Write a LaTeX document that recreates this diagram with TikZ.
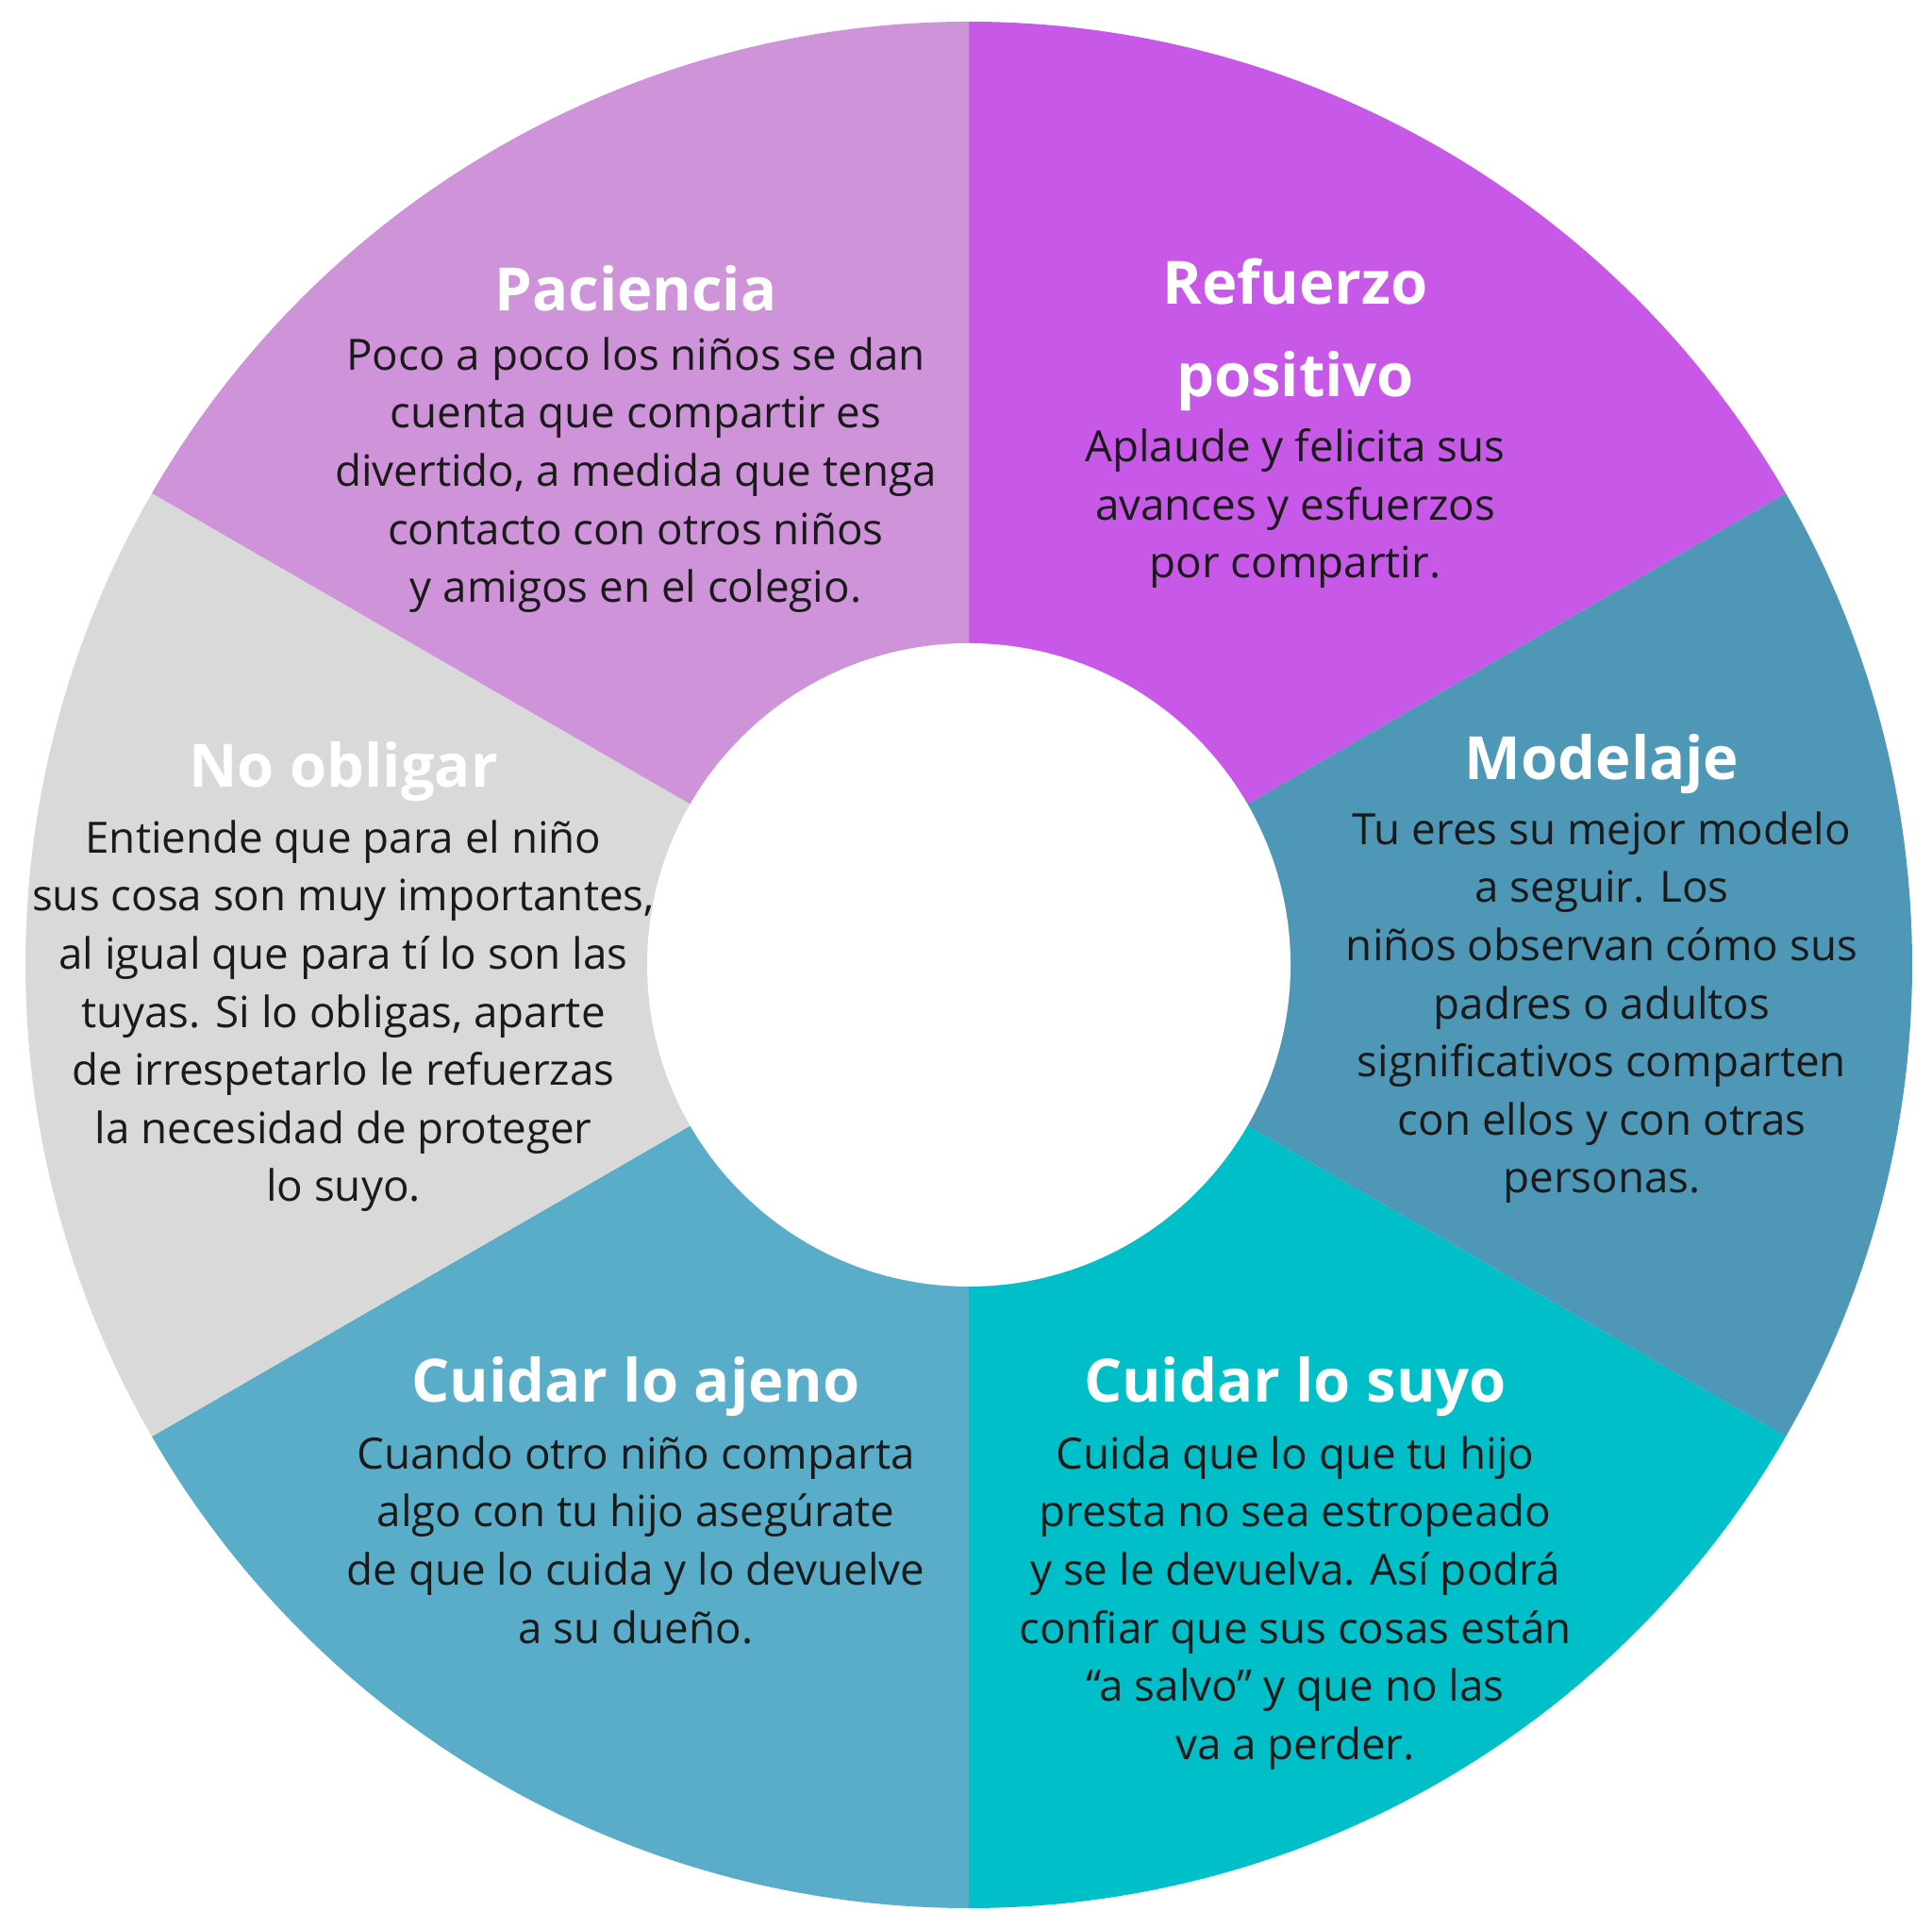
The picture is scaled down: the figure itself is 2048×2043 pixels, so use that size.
\documentclass[tikz,border=0pt]{standalone}
\usepackage{fontspec}
\setmainfont{Open Sans}
\usepackage{xcolor}
\usetikzlibrary{positioning, calc}
\definecolor{refuerzo}{HTML}{C858E8}
\definecolor{modelaje}{HTML}{4F97B7}
\definecolor{suyo}{HTML}{00BFC8}
\definecolor{ajeno}{HTML}{5AADC9}
\definecolor{obligar}{HTML}{D9D9D9}
\definecolor{paciencia}{HTML}{CF93DA}
\definecolor{bodytext}{HTML}{1A1A1A}
\tikzset{
  title/.style={font=\fontsize{18}{28}\selectfont\bfseries, text=white, align=center, inner sep=0pt},
  body/.style={font=\fontsize{13}{17.5}\selectfont, text=bodytext, align=center, inner sep=0pt, anchor=north}
}

\begin{document}
\begin{tikzpicture}[x=0.01cm, y=0.01cm]
  \useasboundingbox (0,0) rectangle (2048,2043);
  \coordinate (c) at (1027,1020);

  % wheel
  \foreach \a/\col in {30/refuerzo, -30/modelaje, -90/suyo, -150/ajeno, 150/obligar, 90/paciencia}
    \fill[\col] (c) -- ++(\a:1000) arc (\a:\a+60:1000) -- cycle;
  \fill[white] (c) circle (341);

  \node[title] (tpac) at (674,1737) {Paciencia};
  \node[body] (bpac) at (674,1686) {Poco a poco los niños se dan\\cuenta que compartir es\\divertido, a medida que tenga\\contacto con otros niños\\y amigos en el colegio.};

  \node[title] (tref) at (1373,1688) {Refuerzo\\positivo};
  \node[body] (bref) at (1373,1589) {Aplaude y felicita sus\\avances y esfuerzos\\por compartir.};

  \node[title] (tmod) at (1698,1233) {Modelaje};
  \node[body] (bmod) at (1698,1183) {Tu eres su mejor modelo\\a seguir. Los\\niños observan cómo sus\\padres o adultos\\significativos comparten\\con ellos y con otras\\personas.};

  \node[title] (tobl) at (364,1225) {No obligar};
  \node[body] (bobl) at (364,1174) {Entiende que para el niño\\sus cosa son muy importantes,\\al igual que para tí lo son las\\tuyas. Si lo obligas, aparte\\de irrespetarlo le refuerzas\\la necesidad de proteger\\lo suyo.};

  \node[title] (taje) at (674,573) {Cuidar lo ajeno};
  \node[body] (baje) at (674,521) {Cuando otro niño comparta\\algo con tu hijo asegúrate\\de que lo cuida y lo devuelve\\a su dueño.};

  \node[title] (tsuy) at (1373,573) {Cuidar lo suyo};
  \node[body] (bsuy) at (1373,521) {Cuida que lo que tu hijo\\presta no sea estropeado\\y se le devuelva. Así podrá\\confiar que sus cosas están\\“a salvo” y que no las\\va a perder.};
\end{tikzpicture}
\end{document}
